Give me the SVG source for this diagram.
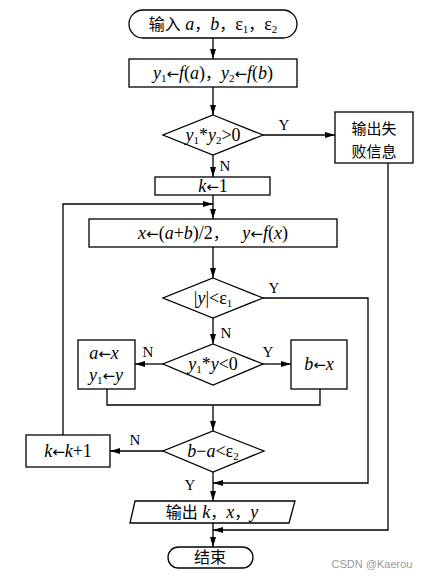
<svg xmlns="http://www.w3.org/2000/svg" width="428" height="580" viewBox="0 0 428 580">
<style>
.n{fill:#fff;stroke:#000;stroke-width:1.3}
.c{fill:none;stroke:#000;stroke-width:1.3}
text{font-family:"Liberation Serif","Noto Sans CJK SC",serif;font-size:18px;fill:#000;text-anchor:middle}
.i{font-style:italic}
.cj{font-family:"Noto Sans CJK SC","Liberation Serif",sans-serif;font-size:16px}
.s{font-size:11px}
.ar{font-family:"DejaVu Sans",sans-serif;font-size:15px}
.lb{font-size:15px}
.wm{font-family:"Liberation Sans",sans-serif;font-size:11px;fill:#999}
</style>
<defs>
<marker id="a" viewBox="0 0 10 6" refX="10" refY="3" markerWidth="10" markerHeight="6" markerUnits="userSpaceOnUse" orient="auto">
<path d="M0,0 L10,3 L0,6 Z" fill="#000"/>
</marker>
</defs>
<rect width="428" height="580" fill="#fff"/>
<g id="connectors">
<path class="c" d="M213,38 V59" marker-end="url(#a)"/>
<path class="c" d="M213,87 V115" marker-end="url(#a)"/>
<path class="c" d="M263,135 H335" marker-end="url(#a)"/>
<path class="c" d="M213,155 V177" marker-end="url(#a)"/>
<path class="c" d="M213,195 V219" marker-end="url(#a)"/>
<path class="c" d="M63,435 V204 H213" marker-end="url(#a)"/>
<path class="c" d="M213,247 V278" marker-end="url(#a)"/>
<path class="c" d="M263,298 H368 V483 H213" marker-end="url(#a)"/>
<path class="c" d="M213,318 V344" marker-end="url(#a)"/>
<path class="c" d="M163,364 H135" marker-end="url(#a)"/>
<path class="c" d="M263,364 H291" marker-end="url(#a)"/>
<path class="c" d="M107,389 V405 H320 V389"/>
<path class="c" d="M213,405 V431" marker-end="url(#a)"/>
<path class="c" d="M163,451 H110" marker-end="url(#a)"/>
<path class="c" d="M213,472 V501" marker-end="url(#a)"/>
<path class="c" d="M388,163 V530 H213" marker-end="url(#a)"/>
<path class="c" d="M213,523 V547" marker-end="url(#a)"/>
<text class="lb" x="284" y="130">Y</text>
<text class="lb" x="225" y="171">N</text>
<text class="lb" x="274" y="293">Y</text>
<text class="lb" x="226" y="338">N</text>
<text class="lb" x="148" y="357">N</text>
<text class="lb" x="268" y="357">Y</text>
<text class="lb" x="135" y="445">N</text>
<text class="lb" x="190" y="490">Y</text>
</g>
<g id="start">
<rect class="n" x="129" y="10" width="168" height="28" rx="14"/>
<text x="213" y="30"><tspan class="cj">输入</tspan> <tspan class="i">a</tspan><tspan class="cj">，</tspan><tspan class="i">b</tspan><tspan class="cj">，</tspan>ε<tspan class="s" dy="3">1</tspan><tspan class="cj" dy="-3">，</tspan>ε<tspan class="s" dy="3">2</tspan></text>
</g>
<g id="init">
<rect class="n" x="129" y="59" width="168" height="28"/>
<text x="213" y="79"><tspan class="i">y</tspan><tspan class="s" dy="3">1</tspan><tspan class="ar" dy="-3">←</tspan><tspan class="i">f</tspan>(<tspan class="i">a</tspan>)<tspan class="cj">，</tspan><tspan class="i">y</tspan><tspan class="s" dy="3">2</tspan><tspan class="ar" dy="-3">←</tspan><tspan class="i">f</tspan>(<tspan class="i">b</tspan>)</text>
</g>
<g id="check1">
<polygon class="n" points="213,115 263,135 213,155 163,135"/>
<text x="213" y="141"><tspan class="i">y</tspan><tspan class="s" dy="3">1</tspan><tspan dy="-3">*</tspan><tspan class="i">y</tspan><tspan class="s" dy="3">2</tspan><tspan dy="-3">&gt;0</tspan></text>
</g>
<g id="fail">
<rect class="n" x="335" y="112" width="78" height="51"/>
<text class="cj" x="374" y="134" style="font-size:15px">输出失</text>
<text class="cj" x="374" y="157" style="font-size:15px">败信息</text>
</g>
<g id="k1">
<rect class="n" x="155" y="177" width="115" height="18"/>
<text x="213" y="192"><tspan class="i">k</tspan><tspan class="ar">←</tspan>1</text>
</g>
<g id="mid">
<rect class="n" x="89" y="219" width="248" height="28"/>
<text x="213" y="239" xml:space="preserve"><tspan class="i">x</tspan><tspan class="ar">←</tspan>(<tspan class="i">a</tspan>+<tspan class="i">b</tspan>)/2<tspan class="cj">，</tspan>   <tspan class="i">y</tspan><tspan class="ar">←</tspan><tspan class="i">f</tspan>(<tspan class="i">x</tspan>)</text>
</g>
<g id="check2">
<polygon class="n" points="213,278 263,298 213,318 163,298"/>
<text x="213" y="304">|<tspan class="i">y</tspan>|&lt;ε<tspan class="s" dy="3">1</tspan></text>
</g>
<g id="check3">
<polygon class="n" points="213,344 263,364 213,385 163,364"/>
<text x="213" y="370"><tspan class="i">y</tspan><tspan class="s" dy="3">1</tspan><tspan dy="-3">*</tspan><tspan class="i">y</tspan>&lt;0</text>
</g>
<g id="left">
<rect class="n" x="78" y="340" width="57" height="49"/>
<text x="104" y="359"><tspan class="i">a</tspan><tspan class="ar">←</tspan><tspan class="i">x</tspan></text>
<text x="106" y="381"><tspan class="i">y</tspan><tspan class="s" dy="3">1</tspan><tspan class="ar" dy="-3">←</tspan><tspan class="i">y</tspan></text>
</g>
<g id="right">
<rect class="n" x="291" y="340" width="56" height="49"/>
<text x="319" y="370"><tspan class="i">b</tspan><tspan class="ar">←</tspan><tspan class="i">x</tspan></text>
</g>
<g id="check4">
<polygon class="n" points="213,431 264,451 213,472 163,451"/>
<text x="213" y="457"><tspan class="i">b</tspan>−<tspan class="i">a</tspan>&lt;ε<tspan class="s" dy="3">2</tspan></text>
</g>
<g id="inc">
<rect class="n" x="26" y="435" width="84" height="32"/>
<text x="68" y="457"><tspan class="i">k</tspan><tspan class="ar">←</tspan><tspan class="i">k</tspan>+1</text>
</g>
<g id="output">
<polygon class="n" points="135,501 295,501 289,523 130,523"/>
<text x="212" y="518"><tspan class="cj">输出</tspan> <tspan class="i">k</tspan><tspan class="cj">，</tspan><tspan class="i">x</tspan><tspan class="cj">，</tspan><tspan class="i">y</tspan></text>
</g>
<g id="end">
<rect class="n" x="168" y="547" width="85" height="21" rx="10.5"/>
<text class="cj" x="210" y="563">结束</text>
</g>
<text class="wm" x="372" y="568">CSDN @Kaerou</text>
</svg>
